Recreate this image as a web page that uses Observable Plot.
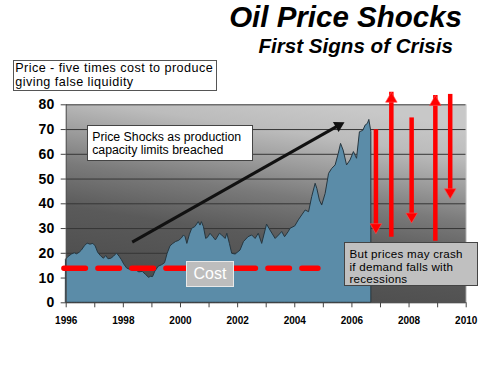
<!DOCTYPE html>
<html><head><meta charset="utf-8">
<script src="https://cdn.jsdelivr.net/npm/d3@7"></script>
<script src="https://cdn.jsdelivr.net/npm/@observablehq/plot@0.6"></script>
<style>
html,body{margin:0;padding:0;background:#fff;}
#wrap{position:relative;width:500px;height:368px;font-family:"Liberation Sans",Arial,sans-serif;overflow:hidden;color:#000}
#chart{position:absolute;left:0;top:0}
.t{position:absolute;white-space:nowrap;box-sizing:border-box}
#title{right:38px;top:1.7px;font-size:29.5px;line-height:29.5px;font-weight:bold;font-style:italic}
#subtitle{right:47px;top:36.3px;font-size:20.6px;line-height:20.6px;font-weight:bold;font-style:italic}
#boxA{left:12.7px;top:60px;width:204px;height:31px;background:#fff;border:1px solid #555;font-size:12.6px;line-height:13.7px;letter-spacing:0.45px;padding:1.1px 0 0 1.5px}
#boxB{left:86.7px;top:125px;width:166.6px;height:36px;background:#fff;border:1px solid #444;font-size:12.3px;line-height:13.4px;padding:4.6px 0 0 4.5px}
#boxC{left:344px;top:242px;width:134px;height:44px;background:#c0c0c0;border:1px solid #444;font-size:11.6px;line-height:12.6px;letter-spacing:0.25px;padding:5.3px 0 0 4.5px}
#boxCost{left:186px;top:260.7px;width:48px;height:26px;background:#bdbdbd;border:1px solid #e8e8e8;font-size:16px;line-height:24px;color:#fff;text-align:center}
</style></head><body>
<div id="wrap">
<div id="chart"></div>
<div class="t" id="title">Oil Price Shocks</div>
<div class="t" id="subtitle">First Signs of Crisis</div>
<div class="t" id="boxA">Price - five times cost to produce<br>giving false liquidity</div>
<div class="t" id="boxB">Price Shocks as production<br>capacity limits breached</div>
<div class="t" id="boxC">But prices may crash<br>if demand falls with<br>recessions</div>
<div class="t" id="boxCost">Cost</div>
</div>
<script>
// ---- data ----
const years = [1996.00,1996.08,1996.20,1996.30,1996.38,1996.47,1996.55,1996.65,1996.75,1996.85,1996.95,
  1997.03,1997.12,1997.22,1997.32,1997.40,1997.48,1997.58,1997.67,1997.78,1997.87,1997.95,
  1998.03,1998.13,1998.24,1998.36,1998.46,1998.56,1998.68,1998.80,1998.90,1998.97,
  1999.04,1999.12,1999.24,1999.36,1999.46,1999.55,1999.65,1999.75,1999.85,1999.95,
  2000.05,2000.12,2000.18,2000.24,2000.33,2000.41,2000.52,2000.64,2000.70,2000.75,2000.82,2000.90,2000.98,
  2001.05,2001.15,2001.24,2001.38,2001.46,2001.58,2001.64,2001.73,2001.81,2001.93,
  2002.10,2002.22,2002.38,2002.51,2002.63,2002.74,2002.86,
  2003.03,2003.15,2003.33,2003.45,2003.56,2003.66,2003.79,2003.85,
  2004.02,2004.14,2004.26,2004.38,2004.50,2004.61,2004.73,2004.79,2004.88,2004.96,
  2005.08,2005.20,2005.31,2005.43,2005.54,2005.62,2005.71,2005.83,2005.95,
  2006.07,2006.18,2006.28,2006.40,2006.48,2006.56,2006.61,2006.68];
const prices = [17.5,18.5,19.5,20.0,19.6,20.2,21.1,22.8,23.9,23.5,23.8,
  22.8,20.2,18.8,17.8,18.9,17.6,17.8,18.6,19.9,18.6,17.2,
  15.5,13.9,13.3,13.6,13.0,12.3,12.5,11.2,10.1,10.5,
  10.4,12.6,14.6,15.2,16.0,19.8,22.8,23.8,24.6,25.0,
  26.0,27.2,26.5,23.8,27.5,29.9,30.6,32.6,31.2,32.6,30.6,25.8,26.5,
  27.9,26.5,25.2,27.9,27.2,25.8,27.9,23.8,19.8,19.5,
  21.1,24.5,26.5,27.2,25.8,27.9,23.8,
  31.6,29.2,25.8,27.2,28.6,26.5,28.6,29.9,
  30.9,33.3,35.3,37.3,36.6,42.7,48.1,46.0,41.3,39.3,
  44.0,52.1,54.1,55.5,60.2,64.2,61.5,55.5,57.5,
  60.9,58.2,68.9,69.5,71.6,72.3,73.9,69.0];
const xTicks = [1996,1997,1998,1999,2000,2001,2002,2003,2004,2005,2006,2007,2008,2009,2010];
const yTicks = [0,10,20,30,40,50,60,70,80];
const costLevel = 14;
const costSpan = [1995.92, 2004.81];
const shockArrow = {x1: 1998.31, y1: 24.5, x2: 2005.74, y2: 73.0};
const crashX    = [2006.84, 2007.38, 2008.09, 2008.92, 2009.44];
const crashFrom = [69.9, 29.2, 74.7, 27.6, 84.2];
const crashTo   = [27.9, 85.1, 32.2, 83.8, 42.0];

// ---- build ----
const W = 500, H = 368, mL = 65.7, mR = 34.3, mT = 104.3, mB = 65.7;
const series = years.map((x, i) => ({x, y: prices[i]}));
const costLine = costSpan.map(x => ({x, y: costLevel}));
const crash = crashX.map((x, i) => ({x, from: crashFrom[i], to: crashTo[i]}));
const downs = crash.filter(d => d.to < d.from);
const ups = crash.filter(d => d.to > d.from);

const xs = Plot.scale({x: {domain: [1996, 2010], range: [mL, W - mR]}});
const ys = Plot.scale({y: {domain: [0, 80], range: [H - mB, mT]}});
const px1 = xs.apply(shockArrow.x1), py1 = ys.apply(shockArrow.y1);
const px2 = xs.apply(shockArrow.x2), py2 = ys.apply(shockArrow.y2);
const len = Math.hypot(px2 - px1, py2 - py1);
const ux = (px2 - px1) / len, uy = (py2 - py1) / len;
const headR = 4.3;
const tipDist = 2 * Math.sqrt(headR * headR * Math.PI / (3 * Math.sqrt(3)));
const angle = Math.atan2(ux, -uy) * 180 / Math.PI;
const shaftEnd = {x: xs.invert(px2 - ux * tipDist), y: ys.invert(py2 - uy * tipDist)};
const redR = 4.3;
const redTip = 2 * Math.sqrt(redR * redR * Math.PI / (3 * Math.sqrt(3)));

const chart = Plot.plot({
  width: W, height: H,
  marginLeft: mL, marginRight: mR, marginTop: mT, marginBottom: mB,
  x: {domain: [1996, 2010], label: null},
  y: {domain: [0, 80], label: null},
  style: {fontFamily: "Liberation Sans, Arial, sans-serif", color: "#000", background: "transparent", overflow: "visible"},
  marks: [
    Plot.frame({fill: "url(#plotBg)", stroke: null}),
    Plot.ruleY(yTicks.filter(d => d > 0), {stroke: "#363636", strokeWidth: 1}),
    Plot.ruleX([2010], {stroke: "#d4d4d4", strokeWidth: 1}),
    Plot.areaY(series, {x: "x", y: "y", fill: "#5b8ca8", stroke: "#26363f", strokeWidth: 1}),
    Plot.ruleY([0], {stroke: "#444", strokeWidth: 1}),
    Plot.ruleX([1996], {stroke: "#444", strokeWidth: 1}),
    Plot.axisX({ticks: xTicks, tickFormat: d => d % 2 === 0 ? String(d) : "", tickSize: 5, tickPadding: 9, fontSize: 10, fontWeight: "bold", stroke: "#444"}),
    Plot.axisY({ticks: yTicks, tickSize: 5, tickPadding: 7, fontSize: 14, fontWeight: "bold", stroke: "#444"}),
    Plot.line(costLine, {x: "x", y: "y", stroke: "#ff0000", strokeWidth: 5.5, strokeDasharray: "21.5,12.5"}),
    Plot.link([shockArrow], {x1: "x1", y1: "y1", x2: () => shaftEnd.x, y2: () => shaftEnd.y, stroke: "#111", strokeWidth: 3}),
    Plot.dot([shockArrow], {x: "x2", y: "y2", symbol: "triangle", r: headR, fill: "#111", stroke: null,
      rotate: angle, dx: -ux * tipDist, dy: -uy * tipDist}),
    Plot.ruleX(downs, {x: "x", y1: "from", y2: "to", stroke: "#ff0000", strokeWidth: 4.5, insetBottom: redTip}),
    Plot.ruleX(ups, {x: "x", y1: "from", y2: "to", stroke: "#ff0000", strokeWidth: 4.5, insetTop: redTip}),
    Plot.dot(downs, {x: "x", y: "to", symbol: "triangle", r: redR, fill: "#ff0000", stroke: "#ff5050", strokeWidth: 0.6, rotate: 180, dy: -redTip}),
    Plot.dot(ups, {x: "x", y: "to", symbol: "triangle", r: redR, fill: "#ff0000", stroke: "#ff5050", strokeWidth: 0.6, rotate: 0, dy: redTip})
  ]
});

const ns = "http://www.w3.org/2000/svg";
const defs = document.createElementNS(ns, "defs");
const grad = document.createElementNS(ns, "linearGradient");
grad.setAttribute("id", "plotBg");
grad.setAttribute("x1", "0.65"); grad.setAttribute("y1", "0");
grad.setAttribute("x2", "0.35"); grad.setAttribute("y2", "1");
[[0, "#c8c8c8"], [0.15, "#bcbcbc"], [0.3, "#9c9c9c"], [0.45, "#7a7a7a"], [0.65, "#5a5a5a"], [1, "#4a4a4a"]].forEach(([o, c]) => {
  const s = document.createElementNS(ns, "stop");
  s.setAttribute("offset", o); s.setAttribute("stop-color", c);
  grad.appendChild(s);
});
defs.appendChild(grad);
chart.insertBefore(defs, chart.firstChild);
document.getElementById("chart").appendChild(chart);
</script>
</body></html>
